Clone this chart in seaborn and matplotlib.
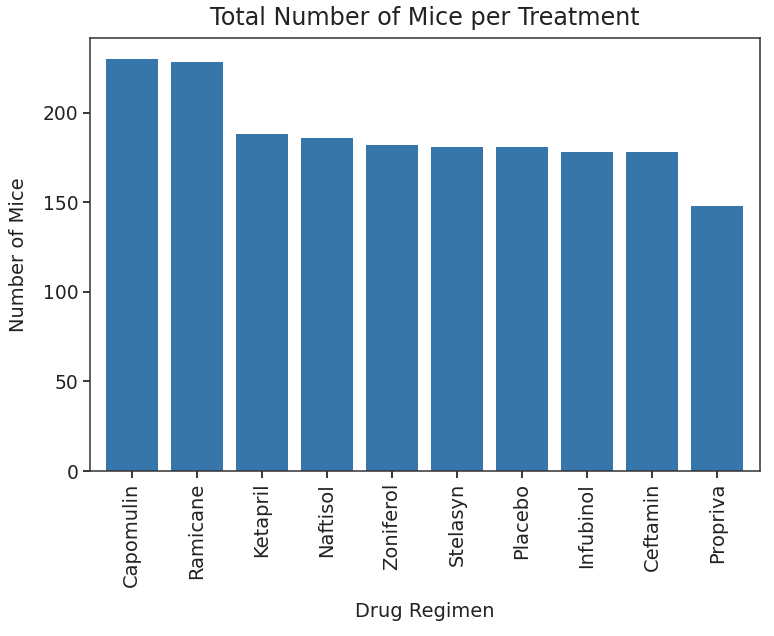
import matplotlib
matplotlib.use("Agg")
import matplotlib.pyplot as plt
import seaborn as sns
import pandas as pd

drugs = ["Capomulin", "Ramicane", "Ketapril", "Naftisol", "Zoniferol",
         "Stelasyn", "Placebo", "Infubinol", "Ceftamin", "Propriva"]
mice_counts = [230, 228, 188, 186, 182, 181, 181, 178, 178, 148]

df = pd.DataFrame({"Drug Regimen": drugs, "Number of Mice": mice_counts})

plt.rcParams['font.family'] = ['DejaVu Sans']
fig = plt.figure(figsize=(7.74, 6.36), dpi=100)
ax = fig.add_axes([0.1163, 0.2594, 0.8657, 0.6806])

sns.barplot(data=df, x="Drug Regimen", y="Number of Mice", color="#3776ab",
            saturation=1, width=0.8, ax=ax)

ax.set_xlim(-0.64, len(drugs) - 1 + 0.66)
ax.set_ylim(0, max(mice_counts) * 1.05)
ax.set_title("Total Number of Mice per Treatment", fontsize=17.2, pad=9.5,
             color="#222222")
ax.set_xlabel("Drug Regimen", fontsize=14, labelpad=10.5, color="#222222")
ax.set_ylabel("Number of Mice", fontsize=14, labelpad=10.5, color="#222222")
ax.tick_params(axis='both', labelsize=14, length=5, width=1.1,
               labelcolor="#222222")
ax.tick_params(axis='y', labelsize=13.5)
plt.setp(ax.get_xticklabels(), rotation=90)
for s in ax.spines.values():
    s.set_linewidth(1.1)
    s.set_color("#333333")

fig.savefig("out.png", dpi=100)
